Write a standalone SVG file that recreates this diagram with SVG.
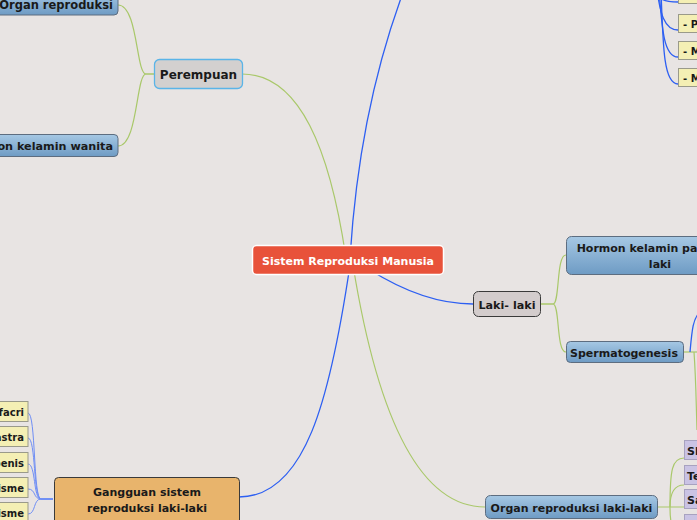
<svg xmlns="http://www.w3.org/2000/svg" width="697" height="520" viewBox="0 0 697 520">
<defs>
<linearGradient id="blueg" x1="0" y1="0" x2="0" y2="1">
<stop offset="0" stop-color="#a6c8e4"/>
<stop offset="1" stop-color="#6e9bc4"/>
</linearGradient>
<style>
text{font-family:"DejaVu Sans",Verdana,sans-serif;font-weight:bold;fill:#1a1a1a}
.blue{fill:url(#blueg);stroke:#5d6d80;stroke-width:1}
.yel{fill:#f4efb4;stroke:#9a9a8a;stroke-width:1}
.pur{fill:#cac3e4;stroke:#a8a2c0;stroke-width:1}
.g{fill:none;stroke:#a9c86a;stroke-width:1.2}
.b{fill:none;stroke:#2d5ff2;stroke-width:1.3}
.lb{fill:none;stroke:#6f8ef5;stroke-width:1}
</style>
</defs>
<rect width="697" height="520" fill="#e8e4e3"/>
<g id="connectors">
<path class="b" d="M350,258 C356,160 374,70 404,-10"/>
<path class="g" d="M346,258 C330,150 300,74 242,74"/>
<path class="b" d="M370,270 C405,292 440,304 473,304"/>
<path class="b" d="M350,265 C330,400 305,497 239,497"/>
<path class="g" d="M353,265 C378,420 420,507 485,507"/>
<path class="g" d="M154,74 L146,74 C136,74 138,5 118,5"/>
<path class="g" d="M154,74 L146,74 C136,74 138,146 118,146"/>
<path class="g" d="M540,304 L553,304 C560,304 556,255 566,255"/>
<path class="g" d="M540,304 L553,304 C560,304 556,352 566,352"/>
<path class="g" d="M683,352 L697,352"/>
<path class="b" d="M690,352 C692,330 693,318 700,312"/>
<path class="g" d="M694,352 C696,380 696,400 697,430"/>
<path class="g" d="M658,507 L697,507"/>
<path class="g" d="M670,507 C670,470 672,458 684,458"/>
<path class="g" d="M670,507 C670,495 673,485 684,485"/>
<path class="g" d="M670,507 C670,530 674,532 684,532"/>
<path class="b" d="M656,-10 C659,0 664,2 678,2"/>
<path class="b" d="M657,-10 C660,12 664,30 678,30"/>
<path class="b" d="M659,-10 C662,30 664,57 678,57"/>
<path class="b" d="M661,-10 C663,50 664,84 678,84"/>
<path class="lb" d="M53,499 L41,499 C33,499 36,413 28,413"/>
<path class="lb" d="M53,499 L41,499 C33,499 36,438 28,438"/>
<path class="lb" d="M53,499 L41,499 C33,499 36,464 28,464"/>
<path class="lb" d="M53,499 L41,499 C33,499 36,489 28,489"/>
<path class="lb" d="M53,499 L41,499 C33,499 36,514 28,514"/>
</g>
<g id="center">
<rect x="252.5" y="245.5" width="191" height="29" rx="4" fill="#e8523a" stroke="#ffffff" stroke-width="1.5"/>
<text x="348" y="264.5" font-size="11" text-anchor="middle" style="fill:#ffffff">Sistem Reproduksi Manusia</text>
</g>
<g id="perempuan">
<rect x="154.5" y="59.5" width="88" height="29" rx="5" fill="#d3d0cf" stroke="#5ab4e8" stroke-width="1.3"/>
<text x="198.5" y="79" font-size="12" text-anchor="middle">Perempuan</text>
</g>
<g id="organ-wanita">
<rect x="-10" y="-8" width="128" height="23" rx="4" class="blue"/>
<text x="113" y="9" font-size="11.5" text-anchor="end">Organ reproduksi</text>
</g>
<g id="hormon-wanita">
<rect x="-60" y="134.5" width="178" height="22" rx="4" class="blue"/>
<text x="113" y="150" font-size="11.2" text-anchor="end">Hormon kelamin wanita</text>
</g>
<g id="laki">
<rect x="473.5" y="291.5" width="67" height="25" rx="5" fill="#d3cccc" stroke="#3a3a3a" stroke-width="1"/>
<text x="507" y="308.5" font-size="11.2" text-anchor="middle">Laki- laki</text>
</g>
<g id="hormon-laki">
<rect x="566.5" y="236.5" width="180" height="38" rx="5" class="blue"/>
<text x="660" y="252" font-size="11" text-anchor="middle">Hormon kelamin pada laki-</text>
<text x="660" y="268" font-size="11" text-anchor="middle">laki</text>
</g>
<g id="spermatogenesis">
<rect x="566.5" y="341.5" width="117" height="21" rx="4" class="blue"/>
<text x="624" y="356.5" font-size="11" text-anchor="middle">Spermatogenesis</text>
</g>
<g id="organ-laki">
<rect x="485.5" y="495.5" width="172" height="23" rx="5" class="blue"/>
<text x="571.5" y="511.5" font-size="11" text-anchor="middle">Organ reproduksi laki-laki</text>
</g>
<g id="gangguan">
<rect x="54.5" y="477.5" width="185" height="52" rx="4" fill="#e8b46c" stroke="#3a3a3a" stroke-width="1"/>
<text x="147" y="496" font-size="11" text-anchor="middle">Gangguan sistem</text>
<text x="147" y="512" font-size="11" text-anchor="middle">reproduksi laki-laki</text>
</g>
<g id="g1"><rect x="-20" y="401.5" width="48" height="20" class="yel"/><text x="24" y="415.5" font-size="10" text-anchor="end">facri</text></g>
<g id="g2"><rect x="-20" y="426.5" width="48" height="20" class="yel"/><text x="24" y="440.5" font-size="10" text-anchor="end">astra</text></g>
<g id="g3"><rect x="-20" y="452.5" width="48" height="20" class="yel"/><text x="24" y="466.5" font-size="10" text-anchor="end">penis</text></g>
<g id="g4"><rect x="-20" y="477.5" width="48" height="20" class="yel"/><text x="24" y="491.5" font-size="10" text-anchor="end">isme</text></g>
<g id="g5"><rect x="-20" y="502.5" width="48" height="20" class="yel"/><text x="24" y="516.5" font-size="10" text-anchor="end">isme</text></g>
<g id="t0"><rect x="678.5" y="-14.5" width="40" height="18" class="yel"/></g>
<g id="t1"><rect x="678.5" y="14.5" width="40" height="18" class="yel"/><text x="683" y="28" font-size="10">- P</text></g>
<g id="t2"><rect x="678.5" y="41.5" width="40" height="18" class="yel"/><text x="683" y="55" font-size="10">- M</text></g>
<g id="t3"><rect x="678.5" y="68.5" width="40" height="18" class="yel"/><text x="683" y="82" font-size="10">- M</text></g>
<g id="p1"><rect x="684.5" y="440.5" width="40" height="19" class="pur"/><text x="687" y="454.5" font-size="11">Sk</text></g>
<g id="p2"><rect x="684.5" y="465.5" width="40" height="19" class="pur"/><text x="687" y="479.5" font-size="11">Te</text></g>
<g id="p3"><rect x="684.5" y="489.5" width="40" height="19" class="pur"/><text x="687" y="503.5" font-size="11">Sa</text></g>
<g id="p4"><rect x="684.5" y="514.5" width="40" height="19" class="pur"/></g>
</svg>
